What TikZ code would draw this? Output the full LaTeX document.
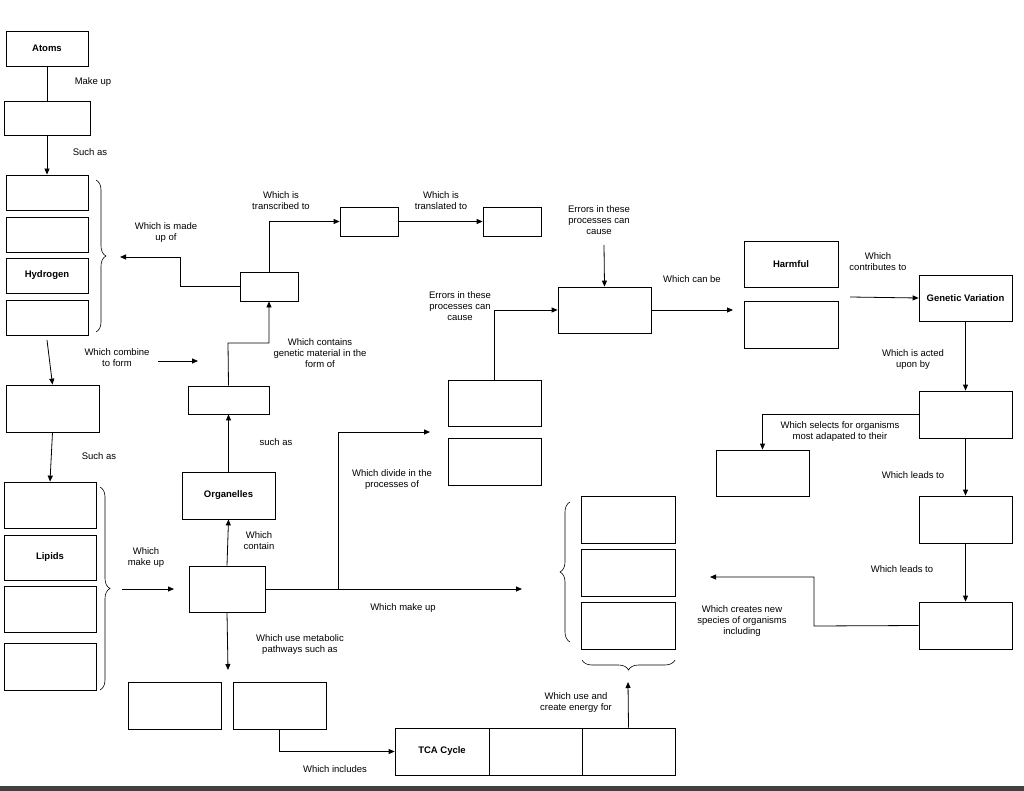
\documentclass[tikz,border=0pt]{standalone}
\usepackage{fontspec}
\setmainfont{Liberation Sans}
\usetikzlibrary{arrows.meta,decorations.pathreplacing}
\begin{document}
\begin{tikzpicture}[x=1pt,y=-1pt,
  bx/.style={draw,line width=0.8pt,inner sep=0pt},
  lbl/.style={font=\fontsize{9.5}{11}\selectfont,align=center,inner sep=0pt},
  blbl/.style={font=\fontsize{9.5}{11}\selectfont\bfseries,inner sep=0pt},
  ar/.style={line width=0.8pt,-{Triangle[length=6pt,width=5pt]}},
  ln/.style={line width=0.8pt},
  br/.style={line width=0.6pt,decorate,decoration={brace,amplitude=10pt}}]
\useasboundingbox (0,0) rectangle (1024,791);
\fill[black!75] (0,786) rectangle (1024,791);
\newcommand\bxx[5]{\node[bx,minimum width=#4-#2,minimum height=#5-#3] (#1) at ({(#2+#4)/2},{(#3+#5)/2}) {};}
\bxx{atoms}{6}{31}{88}{66}\node[blbl] at (atoms) {Atoms};
\bxx{b2}{4}{101}{90}{135}
\bxx{b3}{6}{175}{88}{210}
\bxx{b4}{6}{217}{88}{252}
\bxx{hyd}{6}{258}{88}{293}\node[blbl] at (hyd) {Hydrogen};
\bxx{b6}{6}{300}{88}{335}
\bxx{bA}{240}{272}{298}{301}
\bxx{bB}{340}{207}{398}{236}
\bxx{bC}{483}{207}{541}{236}
\bxx{b7}{6}{385}{99}{432}
\bxx{l1}{4}{482}{96}{528}
\bxx{lip}{4}{535}{96}{580}\node[blbl] at (lip) {Lipids};
\bxx{l3}{4}{586}{96}{632}
\bxx{l4}{4}{643}{96}{690}
\bxx{bD}{189}{566}{265}{612}
\bxx{org}{182}{472}{275}{519}\node[blbl] at (org) {Organelles};
\bxx{bE}{188}{386}{269}{414}
\bxx{m1}{128}{682}{221}{729}
\bxx{m2}{233}{682}{326}{729}
\bxx{tca}{395}{728}{489}{775}\node[blbl] at (tca) {TCA Cycle};
\bxx{t2}{489}{728}{582}{775}
\bxx{t3}{582}{728}{675}{775}
\bxx{r1}{581}{496}{675}{543}
\bxx{r2}{581}{549}{675}{596}
\bxx{r3}{581}{602}{675}{649}
\bxx{e1}{448}{380}{541}{426}
\bxx{e2}{448}{438}{541}{485}
\bxx{bF}{558}{287}{651}{333}
\bxx{harm}{744}{241}{838}{287}\node[blbl] at (harm) {Harmful};
\bxx{bG}{744}{301}{838}{348}
\bxx{gv}{919}{275}{1012}{321}\node[blbl] at (gv) {Genetic Variation};
\bxx{bH}{919}{391}{1012}{438}
\bxx{bI}{716}{450}{809}{496}
\bxx{bJ}{919}{496}{1012}{543}
\bxx{bK}{919}{602}{1012}{649}
% coordinates
\coordinate (brA) at (120,257);
\coordinate (combS) at (158,361);\coordinate (combE) at (198,361);
\coordinate (brL) at (122,589);
\coordinate (mkE) at (522,589);
\coordinate (dvE) at (430,432);
\coordinate (erS) at (604,245);
\coordinate (hE) at (733,310);
\coordinate (cS) at (850,297);
\coordinate (crE) at (710,577);
\coordinate (brB) at (628,682);
\coordinate (mU) at (228,670);
% braces
\draw[br] (96,180) -- (96,332);
\draw[br] (100,487) -- (100,690);
\draw[br] (570,642) -- (570,502);
\draw[br] (675,660) -- (582,660);
% connectors
\draw[ln] (atoms.south) -- (b2.north);
\draw[ar] (b2.south) -- (b3.north);
\draw[ar] (bA.west) -| (180,257) -- (brA);
\draw[ar] (bA.north) |- (bB.west);
\draw[ar] (bB.east) -- (bC.west);
\draw[ar] (47,340) -- (b7.north);
\draw[ar] (combS) -- (combE);
\draw[ar] (b7.south) -- (l1.north);
\draw[ar] (brL) -- (174,589);
\draw[ar] (bD.north) -- (org.south);
\draw[ar] (org.north) -- (bE.south);
\draw[ar] (bE.north) -- (228,343) -| (bA.south);
\draw[ar] (bD.east) -- (mkE);
\draw[ar] (338,589) |- (dvE);
\draw[ar] (bD.south) -- (mU);
\draw[ar] (m2.south) |- (tca.west);
\draw[ar] (t3.north) -- (brB);
\draw[ar] (e1.north) |- (bF.west);
\draw[ar] (erS) -- (bF.north);
\draw[ar] (bF.east) -- (hE);
\draw[ar] (cS) -- (gv.west);
\draw[ar] (gv.south) -- (bH.north);
\draw[ar] (bH.west) -| (bI.north);
\draw[ar] (bH.south) -- (bJ.north);
\draw[ar] (bJ.south) -- (bK.north);
\draw[ar] (bK.west) -- (814,626) |- (crE);
% labels
\node[lbl] at (93,82) {Make up};
\node[lbl] at (90,152) {Such as};
\node[lbl] at (166,233) {Which is made\\up of};
\node[lbl] at (281,201) {Which is\\transcribed to};
\node[lbl] at (441,201) {Which is\\translated to};
\node[lbl] at (117,358) {Which combine\\to form};
\node[lbl] at (99,456) {Such as};
\node[lbl] at (146,558) {Which\\make up};
\node[lbl] at (259,541) {Which\\contain};
\node[lbl] at (276,442) {such as};
\node[lbl] at (320,353) {Which contains\\genetic material in the\\form of};
\node[lbl] at (403,608) {Which make up};
\node[lbl] at (392,480) {Which divide in the\\processes of};
\node[lbl] at (300,645) {Which use metabolic\\pathways such as};
\node[lbl] at (335,769) {Which includes};
\node[lbl] at (576,703) {Which use and\\create energy for};
\node[lbl] at (460,306) {Errors in these\\processes can\\cause};
\node[lbl] at (599,220) {Errors in these\\processes can\\cause};
\node[lbl] at (692,279) {Which can be};
\node[lbl] at (878,262) {Which\\contributes to};
\node[lbl] at (913,360) {Which is acted\\upon by};
\node[lbl] at (840,432) {Which selects for organisms\\most adapated to their};
\node[lbl] at (913,475) {Which leads to};
\node[lbl] at (902,569) {Which leads to};
\node[lbl] at (742,621) {Which creates new\\species of organisms\\including};
\end{tikzpicture}
\end{document}
